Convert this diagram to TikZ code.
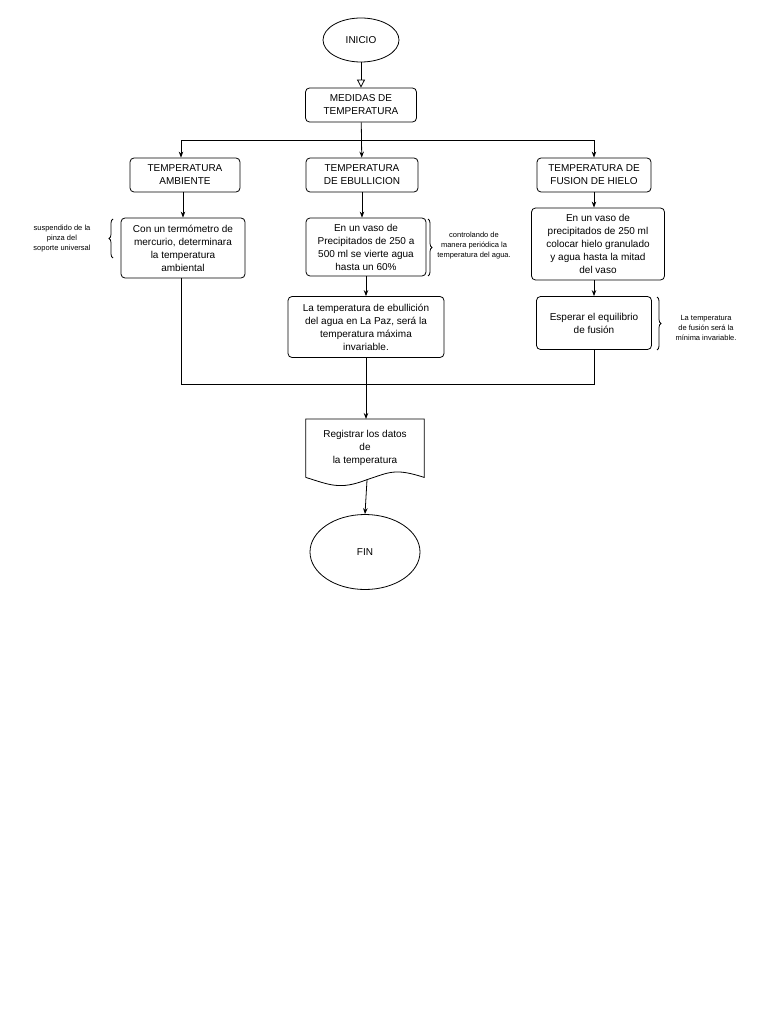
\documentclass[tikz,border=0pt]{standalone}
\usepackage{fontspec}
\setmainfont{Liberation Sans}
\usetikzlibrary{shapes.geometric,arrows.meta,decorations.pathreplacing}

\tikzset{
  caja/.style={draw, rounded corners=4pt, align=center, font=\fontsize{10}{13}\selectfont, inner sep=2pt, thick},
  term/.style={draw, ellipse, font=\fontsize{10}{13}\selectfont, thick},
  nota/.style={align=center, font=\fontsize{7.5}{10}\selectfont},
  flecha/.style={-{Stealth[length=6pt]}, thick},
  llave/.style={decorate, decoration={brace, amplitude=4pt}, thick},
}

\begin{document}
\begin{tikzpicture}[x=1pt, y=-1pt]
\useasboundingbox (0,0) rectangle (768,1024);
% inicio y medidas
\node[term, minimum width=76pt, minimum height=44pt] (ini) at (361,40) {INICIO};
\node[caja, minimum width=111pt, minimum height=34pt] (med) at (361,105) {MEDIDAS DE\\TEMPERATURA};
\draw[thick, -{Triangle[open, length=8pt, width=8pt]}] (ini) -- (med);

% tres ramas
\node[caja, minimum width=110pt, minimum height=34pt] (amb) at (185,175) {TEMPERATURA\\AMBIENTE};
\node[caja, minimum width=112pt, minimum height=34pt] (ebu) at (362,175) {TEMPERATURA\\DE EBULLICION};
\node[caja, minimum width=114pt, minimum height=34pt] (fus) at (594,175) {TEMPERATURA DE\\FUSION DE HIELO};
\coordinate (r1) at (181,140);
\coordinate (r3) at (594,140);
\draw[flecha] (med) -- (ebu);
\draw[flecha] (med.south |- r1) -- (r1) -- (r1 |- amb.north);
\draw[flecha] (med.south |- r1) -- (r3) -- (fus.north);

\node[caja, minimum width=124pt, minimum height=60pt] (ter) at (183,248) {Con un term\'ometro de\\mercurio, determinara\\la temperatura\\ambiental};
\node[caja, minimum width=120pt, minimum height=58pt] (vas) at (366,247) {En un vaso de\\Precipitados de 250 a\\500 ml se vierte agua\\hasta un 60\%};
\node[caja, minimum width=156pt, minimum height=61pt] (max) at (366,327) {La temperatura de ebullici\'on\\del agua en La Paz, ser\'a la\\temperatura m\'axima\\invariable.};
\node[caja, minimum width=133pt, minimum height=72pt] (hie) at (598,244) {En un vaso de\\precipitados de 250 ml\\colocar hielo granulado\\y agua hasta la mitad\\del vaso};
\node[caja, minimum width=115pt, minimum height=53pt] (equ) at (594,323) {Esperar el equilibrio\\de fusi\'on};
\draw[flecha] (amb.south -| ter.north) ++(0,0) -- (ter.north);
\draw[flecha] (ebu.south) -- (ebu.south |- vas.north);
\draw[flecha] (max.north |- vas.south) -- (max.north);
\draw[flecha] (fus.south) -- (fus.south |- hie.north);
\draw[flecha] (equ.north |- hie.south) -- (equ.north);

% notas
\node[nota] (n1) at (62,239) {suspendido de la\\pinza del\\soporte universal};
\node[nota] (n2) at (474,246) {controlando de\\manera peri\'odica la\\temperatura del agua.};
\node[nota] (n3) at (706,328) {La temperatura\\de fusi\'on ser\'a la\\m\'inima invariable.};
\draw[llave] (113,258) -- (113,219);
\draw[llave] (428,219) -- (428,276);
\draw[llave] (657,297) -- (657,350);

% union y registro
\node[minimum width=118pt, minimum height=58pt, font=\fontsize{10}{13}\selectfont, align=center, anchor=north] (reg) at (365,419) {Registrar los datos\\de\\la temperatura};
\draw[thick] (reg.south west) -- (reg.north west) -- (reg.north east) -- (reg.south east)
  .. controls (395,468) and (390,472) .. (366,480)
  .. controls (340,490) and (330,485) .. (reg.south west);
\coordinate (u1) at (181,384);
\coordinate (u3) at (594,384);
\draw[thick] (ter.south -| u1) -- (u1) -- (u3) -- (equ.south);
\draw[flecha] (max.south) -- (max.south |- reg.north);
\node[term, minimum width=110pt, minimum height=75pt] (fin) at (365,552) {FIN};
\coordinate (d) at (367,480);
\draw[flecha] (d) -- (fin.north);
\end{tikzpicture}
\end{document}
